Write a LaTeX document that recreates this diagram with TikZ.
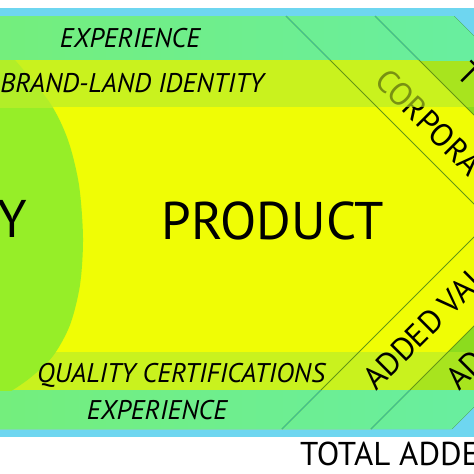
\documentclass[tikz,border=0pt]{standalone}
\usepackage{fontspec}
\setmainfont{PT Sans}
\definecolor{cyanC}{RGB}{110,214,240}
\definecolor{expL}{RGB}{116,238,124}
\definecolor{expR}{RGB}{104,238,160}
\definecolor{brandC}{RGB}{201,242,30}
\definecolor{yellowC}{RGB}{240,253,5}
\definecolor{circC}{RGB}{150,238,40}
\definecolor{circB}{RGB}{178,238,40}
\definecolor{greenT}{RGB}{140,220,30}
\definecolor{greenTB}{RGB}{168,228,30}
\definecolor{lineC}{RGB}{100,150,20}
\definecolor{lineE}{RGB}{60,190,150}
\begin{document}
\begin{tikzpicture}[x=1pt,y=-1pt,
  band/.style={font=\itshape\fontsize{27}{27}\selectfont, inner sep=0pt, anchor=base},
  big/.style={font=\fontsize{53}{53}\selectfont, inner sep=0pt, anchor=base},
  rot/.style={font=\fontsize{32}{32}\selectfont, inner sep=0pt, anchor=base west},
  divider/.style={draw=lineC, line width=0.9pt}]
\useasboundingbox (0,0) rectangle (474,474);
\clip (0,0) rectangle (474,474);
% outer cyan chevron
\fill[cyanC] (0,8) rectangle (474,437);
% third chevron (green)
\fill[greenT] (-10,16) -- (454,16) -- (659.5,221.5) -- (452,429) -- (-10,429) -- cycle;
% second chevron (yellow)
\fill[yellowC] (-10,16) -- (375,16) -- (579.5,220.5) -- (371,429) -- (-10,429) -- cycle;
% horizontal bands inside chevron 3
\begin{scope}
  \clip (-10,16) -- (454,16) -- (659.5,221.5) -- (452,429) -- (-10,429) -- cycle;
  \fill[greenTB] (-10,60) rectangle (480,107);
  \fill[greenTB] (-10,352) rectangle (480,390);
  \fill[left color=expL, right color=expR] (-10,16) rectangle (480,60);
  \fill[left color=expL, right color=expR] (-10,390) rectangle (480,429);
\end{scope}
\begin{scope}
  \clip (-10,16) -- (375,16) -- (579.5,220.5) -- (371,429) -- (-10,429) -- cycle;
  \fill[brandC] (-10,60) rectangle (480,107);
  \fill[brandC] (-10,352) rectangle (480,390);
\end{scope}
% circle
\begin{scope}
  \clip (-10,107) rectangle (200,390);
  \fill[circC] plot[smooth] coordinates {(-20,30) (0,45) (15,60) (50,103) (68,140) (79,185) (83,238) (80,285) (70,325) (53,356) (30,378) (5,395) (-20,410)} -- cycle;
\end{scope}
\begin{scope}
  \clip (-10,60) rectangle (200,107);
  \fill[circB] plot[smooth] coordinates {(-20,30) (0,45) (15,60) (50,103) (68,140) (79,185) (83,238) (80,285) (70,325) (53,356) (30,378) (5,395) (-20,410)} -- cycle;
\end{scope}
% rotated labels
\node[rot, rotate=-45] (corp) at (373,82) {CORPORA};
\node[rot, rotate=-45] (terr) at (455,75) {T};
\node[rot, rotate=45] (addv) at (376,392) {ADDED VAL};
\node[rot, rotate=45] (ad) at (459,392) {AD};
% dim the part of CORPORA that lies under the brand band
\begin{scope}
  \clip (-10,16) -- (375,16) -- (579.5,220.5) -- (371,429) -- (-10,429) -- cycle;
  \fill[brandC, opacity=0.6] (378,60) rectangle (480,107);
\end{scope}
% divider lines
\draw[divider] (286,16) -- (490.5,220.5) -- (282,429);
\draw[divider] (375,16) -- (579.5,220.5) -- (371,429);
\begin{scope}
  \clip (-10,16) rectangle (480,60) (-10,390) rectangle (480,429);
  \draw[divider, draw=lineE] (286,16) -- (490.5,220.5) -- (282,429);
  \draw[divider, draw=lineE] (375,16) -- (579.5,220.5) -- (371,429);
\end{scope}
% band texts
\node[band] (exptop) at (130,47) {EXPERIENCE};
\node[band] (brand) at (132,92) {BRAND-LAND IDENTITY};
\node[band] (qual) at (181,382) {QUALITY CERTIFICATIONS};
\node[band] (expbot) at (157,419) {EXPERIENCE};
\node[big] (prod) at (273,239) {PRODUCT};
\node[big] (circY) at (12.5,237) {Y};
\node[font=\fontsize{33}{33}\selectfont, inner sep=0pt, anchor=base west] (total) at (300,465) {TOTAL ADDE};
\end{tikzpicture}
\end{document}
